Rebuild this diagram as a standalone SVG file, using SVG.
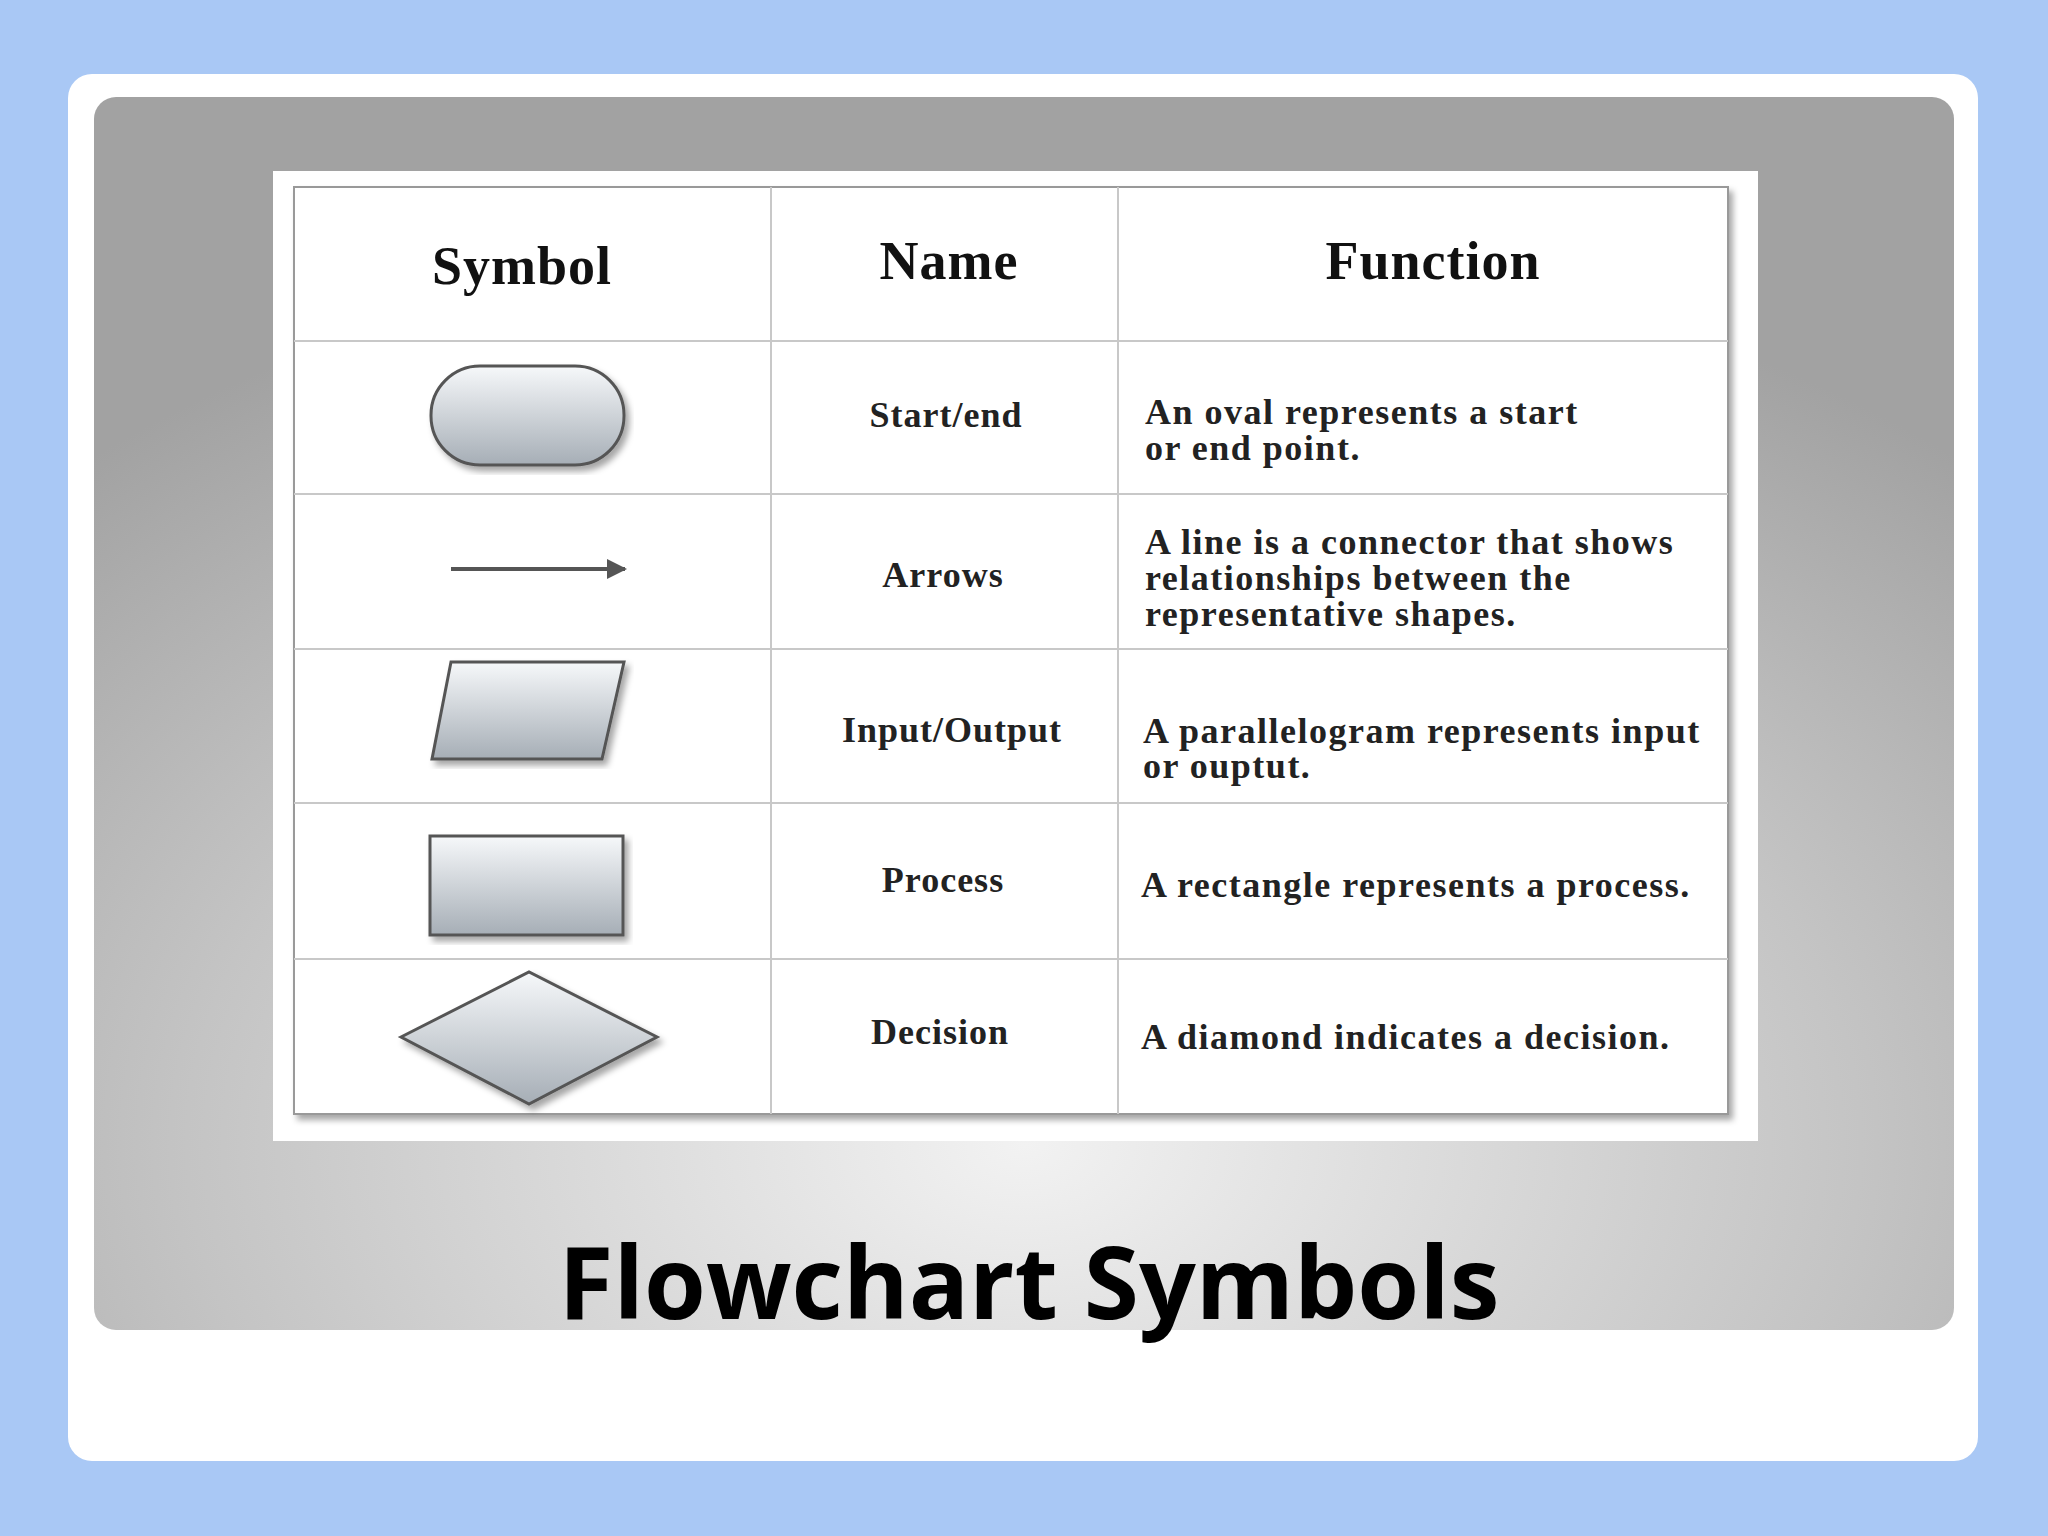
<svg xmlns="http://www.w3.org/2000/svg" width="2048" height="1536" viewBox="0 0 2048 1536">
<defs>
<radialGradient id="bg" cx="0.5" cy="0.85" r="0.75">
<stop offset="0" stop-color="#f2f2f2"/><stop offset="0.6" stop-color="#c4c4c4"/><stop offset="1" stop-color="#a2a2a2"/>
</radialGradient>
<linearGradient id="sh" x1="0" y1="0" x2="0" y2="1">
<stop offset="0" stop-color="#f6f8fa"/><stop offset="1" stop-color="#a6aeb6"/>
</linearGradient>
<filter id="ds" x="-5%" y="-5%" width="110%" height="115%"><feDropShadow dx="4" dy="5" stdDeviation="3" flood-color="#000" flood-opacity="0.35"/></filter>
<marker id="ah" viewBox="0 0 10 10" refX="9" refY="5" markerWidth="5" markerHeight="5" orient="auto"><path d="M0,0 L10,5 L0,10 z" fill="#555"/></marker>
<style>
.h{font-family:"Liberation Serif","DejaVu Serif",serif;font-size:54px;font-weight:bold;fill:#111;text-anchor:middle;letter-spacing:1px}
.n{font-family:"Liberation Serif","DejaVu Serif",serif;font-size:36px;font-weight:bold;fill:#222;text-anchor:middle;letter-spacing:1px}
.f{font-family:"Liberation Serif","DejaVu Serif",serif;font-size:36px;font-weight:bold;fill:#222;letter-spacing:1.5px}
.ln{stroke:#c8c8c8;stroke-width:2}
.shape{fill:url(#sh);stroke:#555;stroke-width:3;filter:url(#ds)}
</style>
</defs>
<rect width="2048" height="1536" fill="#a9c8f5"/>
<rect x="68" y="74" width="1910" height="1387" rx="24" fill="#fff"/>
<rect x="94" y="97" width="1860" height="1233" rx="22" fill="url(#bg)"/>
<rect x="273" y="171" width="1485" height="970" fill="#fff"/>
<g id="table">
<rect x="294" y="187" width="1434" height="927" fill="#fff" stroke="#999" stroke-width="2" filter="url(#ds)"/>
<line class="ln" x1="771" y1="187" x2="771" y2="1114"/>
<line class="ln" x1="1118" y1="187" x2="1118" y2="1114"/>
<line class="ln" x1="294" y1="341" x2="1728" y2="341"/>
<line class="ln" x1="294" y1="494" x2="1728" y2="494"/>
<line class="ln" x1="294" y1="649" x2="1728" y2="649"/>
<line class="ln" x1="294" y1="803" x2="1728" y2="803"/>
<line class="ln" x1="294" y1="959" x2="1728" y2="959"/>
<text class="h" x="522" y="284">Symbol</text>
<text class="h" x="949" y="279">Name</text>
<text class="h" x="1433" y="279">Function</text>
</g>
<g id="startend">
<rect class="shape" x="431" y="366" width="193" height="99" rx="49"/>
<text class="n" x="946" y="427">Start/end</text>
<text class="f" x="1145" y="424">An oval represents a start</text>
<text class="f" x="1145" y="460">or end point.</text>
</g>
<g id="arrows">
<line x1="451" y1="569" x2="625" y2="569" stroke="#555" stroke-width="4" marker-end="url(#ah)"/>
<text class="n" x="943" y="587">Arrows</text>
<text class="f" x="1145" y="554">A line is a connector that shows</text>
<text class="f" x="1145" y="590">relationships between the</text>
<text class="f" x="1145" y="626">representative shapes.</text>
</g>
<g id="io">
<polygon class="shape" points="451,662 624,662 602,759 432,759"/>
<text class="n" x="952" y="742">Input/Output</text>
<text class="f" x="1143" y="743">A parallelogram represents input</text>
<text class="f" x="1143" y="778">or ouptut.</text>
</g>
<g id="process">
<rect class="shape" x="430" y="836" width="193" height="99"/>
<text class="n" x="943" y="892">Process</text>
<text class="f" x="1141" y="897">A rectangle represents a process.</text>
</g>
<g id="decision">
<polygon class="shape" points="401,1037 529,972 657,1037 529,1104"/>
<text class="n" x="940" y="1044">Decision</text>
<text class="f" x="1141" y="1049">A diamond indicates a decision.</text>
</g>
<text x="1029" y="1319" font-family="'Open Sans','Noto Sans',sans-serif" font-weight="bold" font-size="100" text-anchor="middle" fill="#000">Flowchart Symbols</text>
</svg>
